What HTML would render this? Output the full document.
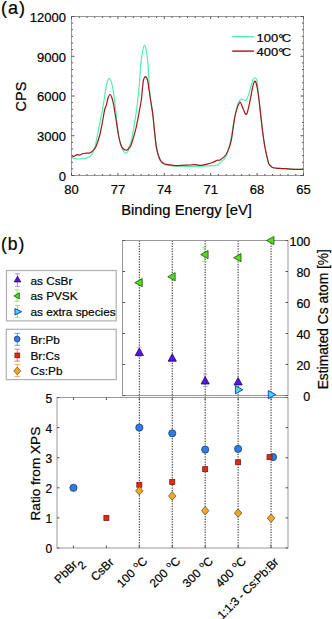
<!DOCTYPE html>
<html><head><meta charset="utf-8"><style>
html,body{margin:0;padding:0;background:#fff;width:332px;height:619px;overflow:hidden}
svg{display:block}
text{font-family:"Liberation Sans", sans-serif;fill:#000;stroke:#000;stroke-width:0.2px}
</style></head><body>
<svg width="332" height="619" viewBox="0 0 332 619">
<text x="1" y="14" font-size="18" letter-spacing="1">(a)</text>
<path d="M71.50,157.10 C71.92,157.30 73.08,158.00 74.00,158.30 C74.92,158.60 76.00,158.80 77.00,158.90 C78.00,159.00 79.00,159.00 80.00,158.90 C81.00,158.80 82.00,158.40 83.00,158.30 C84.00,158.20 85.00,158.50 86.00,158.30 C87.00,158.10 88.00,157.80 89.00,157.10 C90.00,156.40 91.00,155.78 92.00,154.10 C93.00,152.42 94.10,150.18 95.00,147.00 C95.90,143.82 96.50,139.50 97.40,135.00 C98.30,130.50 99.55,124.17 100.40,120.00 C101.25,115.83 101.63,115.00 102.50,110.00 C103.37,105.00 104.77,94.83 105.60,90.00 C106.43,85.17 106.90,82.93 107.50,81.00 C108.10,79.07 108.62,78.40 109.20,78.40 C109.78,78.40 110.35,79.07 111.00,81.00 C111.65,82.93 112.32,85.17 113.10,90.00 C113.88,94.83 115.12,105.00 115.70,110.00 C116.28,115.00 116.13,115.83 116.60,120.00 C117.07,124.17 117.78,130.83 118.50,135.00 C119.22,139.17 120.15,142.42 120.90,145.00 C121.65,147.58 122.20,149.13 123.00,150.50 C123.80,151.87 124.87,153.12 125.70,153.20 C126.53,153.28 127.37,152.20 128.00,151.00 C128.63,149.80 128.92,147.83 129.50,146.00 C130.08,144.17 130.87,142.63 131.50,140.00 C132.13,137.37 132.58,134.35 133.30,130.20 C134.02,126.05 135.05,120.13 135.80,115.10 C136.55,110.07 137.22,105.02 137.80,100.00 C138.38,94.98 138.82,90.82 139.30,85.00 C139.78,79.18 140.17,70.60 140.70,65.10 C141.23,59.60 141.87,55.32 142.50,52.00 C143.13,48.68 143.83,45.20 144.50,45.20 C145.17,45.20 145.90,48.68 146.50,52.00 C147.10,55.32 147.60,58.77 148.10,65.10 C148.60,71.43 149.08,84.18 149.50,90.00 C149.92,95.82 150.03,95.82 150.60,100.00 C151.17,104.18 152.27,110.07 152.90,115.10 C153.53,120.13 153.78,124.67 154.40,130.20 C155.02,135.73 155.60,143.17 156.60,148.30 C157.60,153.43 159.02,158.25 160.40,161.00 C161.78,163.75 163.27,164.03 164.90,164.80 C166.53,165.57 168.52,165.40 170.20,165.60 C171.88,165.80 172.53,165.88 175.00,166.00 C177.47,166.12 181.67,166.25 185.00,166.30 C188.33,166.35 191.33,166.37 195.00,166.30 C198.67,166.23 203.38,166.07 207.00,165.90 C210.62,165.73 214.53,165.80 216.70,165.30 C218.87,164.80 218.50,164.33 220.00,162.90 C221.50,161.47 224.00,160.10 225.70,156.70 C227.40,153.30 228.88,148.07 230.20,142.50 C231.52,136.93 232.47,129.33 233.60,123.30 C234.73,117.27 235.87,110.27 237.00,106.30 C238.13,102.33 239.40,100.62 240.40,99.50 C241.40,98.38 241.98,99.53 243.00,99.60 C244.02,99.67 245.38,101.33 246.50,99.90 C247.62,98.47 248.63,94.37 249.70,91.00 C250.77,87.63 251.97,81.85 252.90,79.70 C253.83,77.55 254.62,77.97 255.30,78.10 C255.98,78.23 256.58,78.85 257.00,80.50 C257.42,82.15 257.27,83.02 257.80,88.00 C258.33,92.98 259.40,103.17 260.20,110.40 C261.00,117.63 261.80,125.22 262.60,131.40 C263.40,137.58 264.05,142.38 265.00,147.50 C265.95,152.62 267.47,159.13 268.30,162.10 C269.13,165.07 269.18,164.35 270.00,165.30 C270.82,166.25 271.55,167.28 273.20,167.80 C274.85,168.32 277.42,168.22 279.90,168.40 C282.38,168.58 285.35,168.73 288.10,168.90 C290.85,169.07 293.83,169.32 296.40,169.40 C298.97,169.48 302.32,169.40 303.50,169.40" fill="none" stroke="#4ff0b0" stroke-width="1.2" stroke-linejoin="round"/>
<path d="M71.50,155.90 C71.92,155.97 73.08,156.50 74.00,156.30 C74.92,156.10 76.00,154.92 77.00,154.70 C78.00,154.48 79.00,155.20 80.00,155.00 C81.00,154.80 82.00,153.80 83.00,153.50 C84.00,153.20 85.00,153.27 86.00,153.20 C87.00,153.13 88.17,153.25 89.00,153.10 C89.83,152.95 90.17,152.93 91.00,152.30 C91.83,151.67 93.17,150.27 94.00,149.30 C94.83,148.33 95.03,148.88 96.00,146.50 C96.97,144.12 98.67,139.42 99.80,135.00 C100.93,130.58 102.00,124.17 102.80,120.00 C103.60,115.83 104.00,112.50 104.60,110.00 C105.20,107.50 105.83,107.00 106.40,105.00 C106.97,103.00 107.38,99.75 108.00,98.00 C108.62,96.25 109.43,94.50 110.10,94.50 C110.77,94.50 111.40,96.25 112.00,98.00 C112.60,99.75 113.28,103.00 113.70,105.00 C114.12,107.00 114.10,107.50 114.50,110.00 C114.90,112.50 115.43,115.83 116.10,120.00 C116.77,124.17 117.70,130.83 118.50,135.00 C119.30,139.17 120.07,142.67 120.90,145.00 C121.73,147.33 122.55,148.13 123.50,149.00 C124.45,149.87 125.68,150.37 126.60,150.20 C127.52,150.03 128.27,148.83 129.00,148.00 C129.73,147.17 129.92,148.17 131.00,145.20 C132.08,142.23 134.23,135.22 135.50,130.20 C136.77,125.18 137.63,120.13 138.60,115.10 C139.57,110.07 140.65,104.52 141.30,100.00 C141.95,95.48 142.13,91.33 142.50,88.00 C142.87,84.67 143.00,81.90 143.50,80.00 C144.00,78.10 144.83,76.60 145.50,76.60 C146.17,76.60 146.90,77.77 147.50,80.00 C148.10,82.23 148.58,86.67 149.10,90.00 C149.62,93.33 149.97,95.82 150.60,100.00 C151.23,104.18 152.27,110.07 152.90,115.10 C153.53,120.13 153.78,124.67 154.40,130.20 C155.02,135.73 155.60,143.28 156.60,148.30 C157.60,153.32 159.02,157.68 160.40,160.30 C161.78,162.92 163.27,163.25 164.90,164.00 C166.53,164.75 168.52,164.53 170.20,164.80 C171.88,165.07 172.53,165.53 175.00,165.60 C177.47,165.67 181.67,165.35 185.00,165.20 C188.33,165.05 192.33,164.68 195.00,164.70 C197.67,164.72 199.00,165.40 201.00,165.30 C203.00,165.20 205.00,164.60 207.00,164.10 C209.00,163.60 211.28,162.95 213.00,162.30 C214.72,161.65 216.13,160.58 217.30,160.20 C218.47,159.82 218.60,160.87 220.00,160.00 C221.40,159.13 224.20,156.97 225.70,155.00 C227.20,153.03 228.07,150.67 229.00,148.20 C229.93,145.73 230.63,143.40 231.30,140.20 C231.97,137.00 232.43,132.77 233.00,129.00 C233.57,125.23 234.03,121.00 234.70,117.60 C235.37,114.20 236.10,111.13 237.00,108.60 C237.90,106.07 239.07,102.33 240.10,102.40 C241.13,102.47 242.13,107.00 243.20,109.00 C244.27,111.00 245.42,115.52 246.50,114.40 C247.58,113.28 248.63,107.00 249.70,102.30 C250.77,97.60 251.97,89.70 252.90,86.20 C253.83,82.70 254.48,80.50 255.30,81.30 C256.12,82.10 256.98,86.15 257.80,91.00 C258.62,95.85 259.40,103.67 260.20,110.40 C261.00,117.13 261.80,125.22 262.60,131.40 C263.40,137.58 264.05,142.38 265.00,147.50 C265.95,152.62 267.47,159.13 268.30,162.10 C269.13,165.07 269.18,164.35 270.00,165.30 C270.82,166.25 271.55,167.28 273.20,167.80 C274.85,168.32 277.42,168.22 279.90,168.40 C282.38,168.58 285.35,168.73 288.10,168.90 C290.85,169.07 293.83,169.32 296.40,169.40 C298.97,169.48 302.32,169.40 303.50,169.40" fill="none" stroke="#a01818" stroke-width="1.2" stroke-linejoin="round"/>
<rect x="71.5" y="16.5" width="232.0" height="159.0" fill="none" stroke="#999" stroke-width="1"/>
<path d="M71.50,175.5v-2.5M71.50,16.5v2.5M79.23,175.5v-1.5M79.23,16.5v1.5M86.97,175.5v-1.5M86.97,16.5v1.5M94.70,175.5v-1.5M94.70,16.5v1.5M102.43,175.5v-1.5M102.43,16.5v1.5M110.17,175.5v-1.5M110.17,16.5v1.5M117.90,175.5v-2.5M117.90,16.5v2.5M125.63,175.5v-1.5M125.63,16.5v1.5M133.37,175.5v-1.5M133.37,16.5v1.5M141.10,175.5v-1.5M141.10,16.5v1.5M148.83,175.5v-1.5M148.83,16.5v1.5M156.57,175.5v-1.5M156.57,16.5v1.5M164.30,175.5v-2.5M164.30,16.5v2.5M172.03,175.5v-1.5M172.03,16.5v1.5M179.77,175.5v-1.5M179.77,16.5v1.5M187.50,175.5v-1.5M187.50,16.5v1.5M195.23,175.5v-1.5M195.23,16.5v1.5M202.97,175.5v-1.5M202.97,16.5v1.5M210.70,175.5v-2.5M210.70,16.5v2.5M218.43,175.5v-1.5M218.43,16.5v1.5M226.17,175.5v-1.5M226.17,16.5v1.5M233.90,175.5v-1.5M233.90,16.5v1.5M241.63,175.5v-1.5M241.63,16.5v1.5M249.37,175.5v-1.5M249.37,16.5v1.5M257.10,175.5v-2.5M257.10,16.5v2.5M264.83,175.5v-1.5M264.83,16.5v1.5M272.57,175.5v-1.5M272.57,16.5v1.5M280.30,175.5v-1.5M280.30,16.5v1.5M288.03,175.5v-1.5M288.03,16.5v1.5M295.77,175.5v-1.5M295.77,16.5v1.5M303.50,175.5v-2.5M303.50,16.5v2.5M71.5,175.50h3M303.5,175.50h-3M71.5,168.88h1.5M303.5,168.88h-1.5M71.5,162.25h1.5M303.5,162.25h-1.5M71.5,155.62h1.5M303.5,155.62h-1.5M71.5,149.00h1.5M303.5,149.00h-1.5M71.5,142.38h1.5M303.5,142.38h-1.5M71.5,135.75h3M303.5,135.75h-3M71.5,129.12h1.5M303.5,129.12h-1.5M71.5,122.50h1.5M303.5,122.50h-1.5M71.5,115.88h1.5M303.5,115.88h-1.5M71.5,109.25h1.5M303.5,109.25h-1.5M71.5,102.62h1.5M303.5,102.62h-1.5M71.5,96.00h3M303.5,96.00h-3M71.5,89.38h1.5M303.5,89.38h-1.5M71.5,82.75h1.5M303.5,82.75h-1.5M71.5,76.12h1.5M303.5,76.12h-1.5M71.5,69.50h1.5M303.5,69.50h-1.5M71.5,62.88h1.5M303.5,62.88h-1.5M71.5,56.25h3M303.5,56.25h-3M71.5,49.62h1.5M303.5,49.62h-1.5M71.5,43.00h1.5M303.5,43.00h-1.5M71.5,36.38h1.5M303.5,36.38h-1.5M71.5,29.75h1.5M303.5,29.75h-1.5M71.5,23.12h1.5M303.5,23.12h-1.5M71.5,16.50h3M303.5,16.50h-3" stroke="#555" stroke-width="1" fill="none"/>
<text x="66" y="180.80" font-size="13" text-anchor="end">0</text>
<text x="66" y="141.05" font-size="13" text-anchor="end">3000</text>
<text x="66" y="101.30" font-size="13" text-anchor="end">6000</text>
<text x="66" y="61.55" font-size="13" text-anchor="end">9000</text>
<text x="66" y="21.80" font-size="13" text-anchor="end">12000</text>
<text x="71.50" y="194" font-size="13" text-anchor="middle">80</text>
<text x="117.90" y="194" font-size="13" text-anchor="middle">77</text>
<text x="164.30" y="194" font-size="13" text-anchor="middle">74</text>
<text x="210.70" y="194" font-size="13" text-anchor="middle">71</text>
<text x="257.10" y="194" font-size="13" text-anchor="middle">68</text>
<text x="303.50" y="194" font-size="13" text-anchor="middle">65</text>
<text x="186.6" y="214.9" font-size="14.8" text-anchor="middle">Binding Energy [eV]</text>
<text transform="translate(25.8,96.6) rotate(-90)" x="0" y="0" font-size="14.5" text-anchor="middle">CPS</text>
<path d="M232.2,36.7H253.9" stroke="#4ff0b0" stroke-width="1.4"/>
<path d="M232.2,51.1H253.9" stroke="#a01818" stroke-width="1.4"/>
<text transform="translate(256.6,41.9) scale(1.12,1)" font-size="11.6">100<tspan letter-spacing="-1.6">°</tspan>C</text>
<text transform="translate(256.6,56) scale(1.12,1)" font-size="11.6">400<tspan letter-spacing="-1.6">°</tspan>C</text>
<text x="1" y="250.3" font-size="17.5" letter-spacing="1">(b)</text>
<path d="M139.32,240.5V548" stroke="#222" stroke-width="1" stroke-dasharray="1.3 1.3"/>
<path d="M172.25,240.5V548" stroke="#222" stroke-width="1" stroke-dasharray="1.3 1.3"/>
<path d="M205.18,240.5V548" stroke="#222" stroke-width="1" stroke-dasharray="1.3 1.3"/>
<path d="M238.11,240.5V548" stroke="#222" stroke-width="1" stroke-dasharray="1.3 1.3"/>
<path d="M271.04,240.5V548" stroke="#222" stroke-width="1" stroke-dasharray="1.3 1.3"/>
<rect x="122.5" y="240.5" width="165.5" height="155.0" fill="none" stroke="#999" stroke-width="1"/>
<path d="M122.5,395.50h2.5M288,395.50h-2.5M122.5,364.50h2.5M288,364.50h-2.5M122.5,333.50h2.5M288,333.50h-2.5M122.5,302.50h2.5M288,302.50h-2.5M122.5,271.50h2.5M288,271.50h-2.5M122.5,240.50h2.5M288,240.50h-2.5" stroke="#555" stroke-width="1" fill="none"/>
<text x="310.3" y="400.70" font-size="12.5" text-anchor="end">0</text>
<text x="310.3" y="369.70" font-size="12.5" text-anchor="end">20</text>
<text x="310.3" y="338.70" font-size="12.5" text-anchor="end">40</text>
<text x="310.3" y="307.70" font-size="12.5" text-anchor="end">60</text>
<text x="310.3" y="276.70" font-size="12.5" text-anchor="end">80</text>
<text x="310.3" y="245.70" font-size="12.5" text-anchor="end">100</text>
<text transform="translate(328.2,319.2) rotate(-90)" x="0" y="0" font-size="13.8" text-anchor="middle">Estimated Cs atom [%]</text>
<rect x="57" y="397.5" width="231" height="150.5" fill="none" stroke="#999" stroke-width="1"/>
<path d="M57,548.00h2.5M288,548.00h-2.5M57,517.90h2.5M288,517.90h-2.5M57,487.80h2.5M288,487.80h-2.5M57,457.70h2.5M288,457.70h-2.5M57,427.60h2.5M288,427.60h-2.5M57,397.50h2.5M288,397.50h-2.5M73.46,548v-2.5M73.46,397.5v2.5M106.39,548v-2.5M106.39,397.5v2.5M139.32,548v-2.5M139.32,397.5v2.5M172.25,548v-2.5M172.25,397.5v2.5M205.18,548v-2.5M205.18,397.5v2.5M238.11,548v-2.5M238.11,397.5v2.5M271.04,548v-2.5M271.04,397.5v2.5" stroke="#555" stroke-width="1" fill="none"/>
<text x="52.3" y="553.20" font-size="12" text-anchor="end">0</text>
<text x="52.3" y="523.10" font-size="12" text-anchor="end">1</text>
<text x="52.3" y="493.00" font-size="12" text-anchor="end">2</text>
<text x="52.3" y="462.90" font-size="12" text-anchor="end">3</text>
<text x="52.3" y="432.80" font-size="12" text-anchor="end">4</text>
<text x="52.3" y="402.70" font-size="12" text-anchor="end">5</text>
<text transform="translate(40,473.6) rotate(-90)" x="0" y="0" font-size="13.6" text-anchor="middle">Ratio from XPS</text>
<text transform="translate(78.20,565.4) rotate(-45)" x="0" y="0" font-size="12" text-anchor="end">PbBr</text>
<text transform="translate(114.59,563) rotate(-45)" x="0" y="0" font-size="12" text-anchor="end">CsBr</text>
<text transform="translate(148.12,561.8) rotate(-45)" x="0" y="0" font-size="12" text-anchor="end">100 <tspan font-size="8" dy="-4.6" dx="0.8">o</tspan><tspan dy="4.6" dx="0.1">C</tspan></text>
<text transform="translate(181.05,561.8) rotate(-45)" x="0" y="0" font-size="12" text-anchor="end">200 <tspan font-size="8" dy="-4.6" dx="0.8">o</tspan><tspan dy="4.6" dx="0.1">C</tspan></text>
<text transform="translate(213.98,561.8) rotate(-45)" x="0" y="0" font-size="12" text-anchor="end">300 <tspan font-size="8" dy="-4.6" dx="0.8">o</tspan><tspan dy="4.6" dx="0.1">C</tspan></text>
<text transform="translate(246.91,561.8) rotate(-45)" x="0" y="0" font-size="12" text-anchor="end">400 <tspan font-size="8" dy="-4.6" dx="0.8">o</tspan><tspan dy="4.6" dx="0.1">C</tspan></text>
<text transform="translate(279.24,563) rotate(-45)" x="0" y="0" font-size="12" text-anchor="end" letter-spacing="-0.3">1:1:3 - Cs:Pb:Br</text>
<text transform="translate(82.3,570.3) rotate(-45)" x="0" y="0" font-size="11.5">2</text>
<path d="M139.32,347.13V356.45M137.07,347.13h4.5M137.07,356.45h4.5" stroke="#b090e0" stroke-width="0.8" fill="none"/>
<path d="M139.32,348.09L143.42,355.49L135.22,355.49Z" fill="#5a14e6" stroke="#14085a" stroke-width="0.8"/>
<path d="M172.25,353.82L176.35,361.22L168.15,361.22Z" fill="#5a14e6" stroke="#14085a" stroke-width="0.8"/>
<path d="M205.18,374.09V386.53M202.93,374.09h4.5M202.93,386.53h4.5" stroke="#b090e0" stroke-width="0.8" fill="none"/>
<path d="M205.18,376.61L209.28,384.01L201.08,384.01Z" fill="#5a14e6" stroke="#14085a" stroke-width="0.8"/>
<path d="M238.11,377.54L242.21,384.94L234.01,384.94Z" fill="#5a14e6" stroke="#14085a" stroke-width="0.8"/>
<path d="M134.82,282.66L142.22,278.56L142.22,286.76Z" fill="#4fe01e" stroke="#1f4a10" stroke-width="0.8"/>
<path d="M167.75,276.77L175.15,272.67L175.15,280.87Z" fill="#4fe01e" stroke="#1f4a10" stroke-width="0.8"/>
<path d="M204.38,247.77V261.44M202.13,247.77h4.5M202.13,261.44h4.5" stroke="#80e060" stroke-width="0.8" fill="none"/>
<path d="M200.68,254.60L208.08,250.50L208.08,258.70Z" fill="#4fe01e" stroke="#1f4a10" stroke-width="0.8"/>
<path d="M233.61,257.71L241.01,253.61L241.01,261.81Z" fill="#4fe01e" stroke="#1f4a10" stroke-width="0.8"/>
<path d="M266.54,240.50L273.94,236.40L273.94,244.60Z" fill="#4fe01e" stroke="#1f4a10" stroke-width="0.8"/>
<path d="M242.81,389.76L235.41,385.66L235.41,393.87Z" fill="#40e0d8" stroke="#1010c0" stroke-width="0.8"/>
<path d="M275.74,394.57L268.34,390.47L268.34,398.67Z" fill="#40e0d8" stroke="#1010c0" stroke-width="0.8"/>
<circle cx="73.46" cy="487.80" r="3.6" fill="#2b7de9" stroke="#2a3f6a" stroke-width="0.8"/>
<circle cx="139.32" cy="427.60" r="3.6" fill="#2b7de9" stroke="#2a3f6a" stroke-width="0.8"/>
<circle cx="172.25" cy="433.32" r="3.6" fill="#2b7de9" stroke="#2a3f6a" stroke-width="0.8"/>
<circle cx="205.18" cy="449.57" r="3.6" fill="#2b7de9" stroke="#2a3f6a" stroke-width="0.8"/>
<circle cx="238.11" cy="448.97" r="3.6" fill="#2b7de9" stroke="#2a3f6a" stroke-width="0.8"/>
<circle cx="273.04" cy="457.10" r="3.6" fill="#2b7de9" stroke="#2a3f6a" stroke-width="0.8"/>
<rect x="103.89" y="515.40" width="5.0" height="5.0" fill="#e42a0e" stroke="#7a1a10" stroke-width="0.8"/>
<rect x="136.82" y="482.29" width="5.0" height="5.0" fill="#e42a0e" stroke="#7a1a10" stroke-width="0.8"/>
<rect x="169.75" y="479.58" width="5.0" height="5.0" fill="#e42a0e" stroke="#7a1a10" stroke-width="0.8"/>
<rect x="202.68" y="466.64" width="5.0" height="5.0" fill="#e42a0e" stroke="#7a1a10" stroke-width="0.8"/>
<rect x="235.61" y="459.72" width="5.0" height="5.0" fill="#e42a0e" stroke="#7a1a10" stroke-width="0.8"/>
<rect x="267.04" y="454.60" width="5.0" height="5.0" fill="#e42a0e" stroke="#7a1a10" stroke-width="0.8"/>
<path d="M139.32,486.56L143.02,490.81L139.32,495.06L135.62,490.81Z" fill="#f4a52c" stroke="#6b5320" stroke-width="0.8"/>
<path d="M172.25,491.68L175.95,495.93L172.25,500.18L168.55,495.93Z" fill="#f4a52c" stroke="#6b5320" stroke-width="0.8"/>
<path d="M205.18,506.43L208.88,510.68L205.18,514.93L201.48,510.68Z" fill="#f4a52c" stroke="#6b5320" stroke-width="0.8"/>
<path d="M238.11,508.83L241.81,513.08L238.11,517.33L234.41,513.08Z" fill="#f4a52c" stroke="#6b5320" stroke-width="0.8"/>
<path d="M271.04,513.95L274.74,518.20L271.04,522.45L267.34,518.20Z" fill="#f4a52c" stroke="#6b5320" stroke-width="0.8"/>
<rect x="6.5" y="270.5" width="109.7" height="50.4" fill="#fff" stroke="#b0b0b0" stroke-width="1.2"/>
<path d="M17.50,273.70V286.40M15.00,273.70h5M15.00,286.40h5" stroke="#a080e0" stroke-width="0.8" fill="none"/>
<path d="M17.50,276.30L20.75,281.90L14.25,281.90Z" fill="#5a14e6" stroke="#14085a" stroke-width="0.8"/>
<path d="M17.00,289.80V301.30M14.50,289.80h5M14.50,301.30h5" stroke="#80e060" stroke-width="0.8" fill="none"/>
<path d="M13.90,295.90L19.30,292.85L19.30,298.95Z" fill="#4fe01e" stroke="#1f4a10" stroke-width="0.8"/>
<path d="M17.50,305.50V317.30M15.00,305.50h5M15.00,317.30h5" stroke="#80e060" stroke-width="0.8" fill="none"/>
<path d="M21.65,311.70L14.95,308.50L14.95,314.90Z" fill="#40e0d8" stroke="#1010c0" stroke-width="0.8"/>
<text x="30.4" y="284.9" font-size="11.8">as CsBr</text>
<text x="30.4" y="300.3" font-size="11.8">as PVSK</text>
<text x="30.4" y="315.6" font-size="11.8">as extra species</text>
<rect x="6.3" y="329.3" width="109.9" height="50.3" fill="#fff" stroke="#b0b0b0" stroke-width="1.2"/>
<path d="M17.30,333.30V345.30M14.55,333.30h5.5M14.55,345.30h5.5" stroke="#5080b0" stroke-width="0.8" fill="none"/>
<circle cx="17.10" cy="339.00" r="2.9" fill="#2b7de9" stroke="#2a3f6a" stroke-width="0.8"/>
<path d="M17.30,349.20V361.10M14.55,349.20h5.5M14.55,361.10h5.5" stroke="#d06070" stroke-width="0.8" fill="none"/>
<rect x="14.95" y="353.05" width="4.7" height="4.7" fill="#e42a0e" stroke="#7a1a10" stroke-width="0.8"/>
<path d="M17.30,364.50V376.50M14.55,364.50h5.5M14.55,376.50h5.5" stroke="#f0a040" stroke-width="0.8" fill="none"/>
<path d="M17.30,367.10L20.75,370.90L17.30,374.70L13.85,370.90Z" fill="#f4a52c" stroke="#6b5320" stroke-width="0.8"/>
<text x="30.4" y="344.2" font-size="11.8">Br:Pb</text>
<text x="30.4" y="359.8" font-size="11.8">Br:Cs</text>
<text x="30.4" y="375.4" font-size="11.8">Cs:Pb</text>
</svg>
</body></html>
